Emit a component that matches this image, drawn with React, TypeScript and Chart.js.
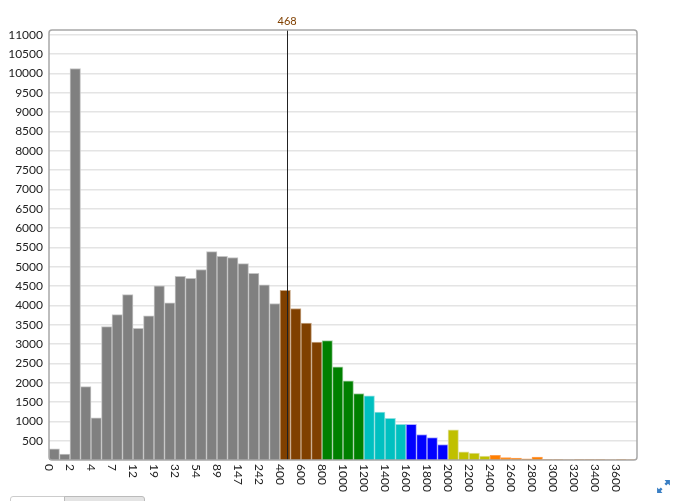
import React, { useEffect, useRef } from 'react';
import { Chart, registerables } from 'chart.js';

Chart.register(...registerables);

// one value per histogram bin, left to right
const binCounts = [
  290, 150, 10130, 1900, 1090, 3450, 3760, 4280, 3410, 3730, 4510, 4070, 4750, 4700,
  4930, 5390, 5270, 5240, 5080, 4830, 4530, 4050, 4390, 3920, 3540, 3050, 3090, 2410,
  2050, 1720, 1660, 1240, 1080, 920, 920, 660, 580, 400, 780, 210, 180, 100,
  120, 65, 50, 30, 75, 10, 8, 6, 12, 8, 8, 6, 8, 6,
];

// labels for every second bin edge
const edgeLabels = [
  '0', '2', '4', '7', '12', '19', '32', '54', '89', '147', '242', '400', '600', '800', '1000',
  '1200', '1400', '1600', '1800', '2000', '2200', '2400', '2600', '2800', '3000', '3200', '3400', '3600',
];

const countTicks = [
  500, 1000, 1500, 2000, 2500, 3000, 3500, 4000, 4500, 5000, 5500,
  6000, 6500, 7000, 7500, 8000, 8500, 9000, 9500, 10000, 10500, 11000,
];

const markerValue = 468;
const markerPosition = 22.68; // 468 sits between the 400 and 600 edges

const bandColors = ['#808080', '#804000', '#008000', '#00c0c0', '#0000ff', '#c0c000', '#ff8000'];
const bandBorders = ['#c4c4c4', '#c8a888', '#a8d0a8', '#90e0e0', '#b0b0ff', '#e0e0a0', '#ffa050'];
const bandSizes = [22, 4, 4, 4, 4, 4, 14];

const barBand: number[] = [];
bandSizes.forEach((size, band) => {
  for (let i = 0; i < size; i++) barBand.push(band);
});

const frameAndMarker = {
  id: 'frameAndMarker',
  afterDatasetsDraw(chart: Chart) {
    const { ctx, chartArea } = chart;
    const { left, top, right, bottom } = chartArea;
    const xScale = chart.scales.x;
    const x = xScale.getPixelForValue(markerPosition);
    ctx.save();
    // marker line and its label
    ctx.strokeStyle = '#222';
    ctx.lineWidth = 1;
    ctx.beginPath();
    ctx.moveTo(Math.round(x) + 0.5, top);
    ctx.lineTo(Math.round(x) + 0.5, bottom);
    ctx.stroke();
    ctx.fillStyle = '#804000';
    ctx.font = '11px Lato';
    ctx.textAlign = 'center';
    ctx.textBaseline = 'alphabetic';
    ctx.fillText(String(markerValue), x, top - 5);
    // plot frame
    ctx.strokeStyle = '#a8a8a8';
    ctx.lineWidth = 1.5;
    ctx.beginPath();
    ctx.roundRect(left, top, right - left, bottom - top, 3);
    ctx.stroke();
    // x labels read downwards from the axis, which the scale itself won't align
    ctx.fillStyle = '#222';
    ctx.font = '12px Lato';
    ctx.textAlign = 'left';
    ctx.textBaseline = 'middle';
    edgeLabels.forEach((label, i) => {
      ctx.save();
      ctx.translate(xScale.getPixelForValue(i * 2), bottom + 4);
      ctx.rotate(Math.PI / 2);
      ctx.fillText(label, 0, 0);
      ctx.restore();
    });
    ctx.restore();
  },
};

export default function App() {
  const canvasRef = useRef<HTMLCanvasElement>(null);

  useEffect(() => {
    if (!canvasRef.current) return;
    const chart = new Chart(canvasRef.current, {
      type: 'bar',
      data: {
        datasets: [
          {
            data: binCounts.map((count, i) => ({ x: i + 0.5, y: count })),
            backgroundColor: barBand.map((band) => bandColors[band]),
            borderColor: barBand.map((band) => bandBorders[band]),
            borderWidth: 1,
            barPercentage: 1,
            categoryPercentage: 1,
          },
        ],
      },
      options: {
        responsive: false,
        animation: false,
        layout: { padding: { top: 30, right: 40, left: 0, bottom: 0 } },
        plugins: { legend: { display: false }, tooltip: { enabled: false } },
        scales: {
          x: {
            type: 'linear',
            offset: false,
            min: 0,
            max: 56,
            afterFit: (scale) => {
              scale.height = 41;
            },
            grid: { display: false, drawTicks: false },
            border: { display: false },
            ticks: { display: false },
          },
          y: {
            min: 0,
            max: 11127,
            afterFit: (scale) => {
              scale.width = 49;
            },
            afterBuildTicks: (scale) => {
              scale.ticks = countTicks.map((value) => ({ value }));
            },
            grid: { color: '#e4e4e4', lineWidth: 1.5, drawTicks: false },
            border: { display: false },
            ticks: {
              autoSkip: false,
              padding: 6,
              color: '#222',
              font: { family: 'Lato', size: 12 },
              callback: (value) => String(value),
            },
          },
        },
      },
      plugins: [frameAndMarker],
    });
    return () => chart.destroy();
  }, []);

  return (
    <div style={{ position: 'absolute', left: 0, top: 0, width: 677, height: 501, overflow: 'hidden', background: '#fff' }}>
      <canvas ref={canvasRef} width={677} height={501} style={{ display: 'block' }} />
      {/* tab strip cut off by the bottom of the window */}
      <div style={{ position: 'absolute', left: 10, top: 496, width: 54, height: 20, background: '#fff', border: '1px solid #ccc', borderRadius: '3px 0 0 0' }} />
      <div style={{ position: 'absolute', left: 64, top: 496, width: 79, height: 20, background: '#e4e4e4', border: '1px solid #bbb', borderRadius: '0 3px 0 0' }} />
      {/* expand icon */}
      <svg style={{ position: 'absolute', left: 656, top: 479 }} width={15} height={15} viewBox="0 0 14 14">
        <path d="M8 1h5v5l-1.8-1.6-1.7 1.7-1.6-1.6 1.7-1.7z M6 13H1V8l1.8 1.6 1.7-1.7 1.6 1.6-1.7 1.7z" fill="#3a7fc4" />
      </svg>
    </div>
  );
}
